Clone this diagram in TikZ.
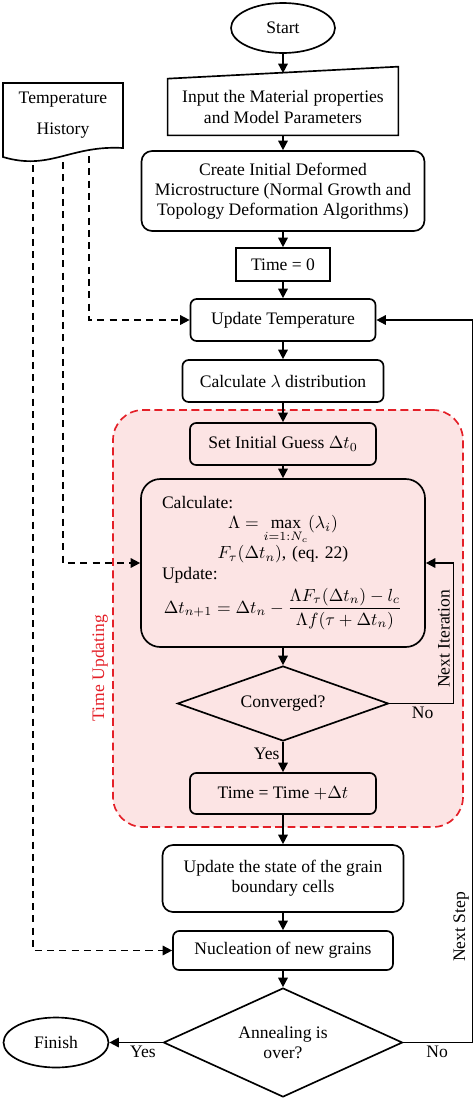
\documentclass[tikz,border=0pt]{standalone}
\usepackage{amsmath,amssymb}
\usepackage{fontspec}
\setmainfont{Liberation Serif}
\usetikzlibrary{arrows.meta,shapes.geometric,positioning}
\definecolor{regionpink}{RGB}{252,228,228}
\definecolor{regionred}{RGB}{228,32,40}

\begin{document}
\begin{tikzpicture}[x=1cm,y=1cm]
\tikzset{
  flownode/.style={draw=black,line width=0.95pt,font=\fontsize{10}{11.5}\selectfont,align=center,inner sep=1pt},
  roundbox/.style={flownode,rectangle,rounded corners=3.5pt},
  plainbox/.style={flownode,rectangle},
  decision/.style={flownode,diamond,aspect=2.6},
  terminal/.style={flownode,ellipse},
  textonly/.style={font=\fontsize{10}{11.5}\selectfont,align=center,inner sep=1pt},
  flowedge/.style={draw=black,line width=0.95pt,line join=miter},
  directed/.style={flowedge,-{Triangle[length=5.4pt,width=5.4pt]}},
  feedback/.style={directed,dash pattern=on 4pt off 3pt},
  edgelabel/.style={font=\fontsize{10}{11.5}\selectfont,inner sep=1.5pt},
  regionbox/.style={draw=regionred,fill=regionpink,line width=0.95pt,dash pattern=on 4.5pt off 2.5pt,rounded corners=0.6cm}
}
\useasboundingbox (0,0) rectangle (9.48,-21.96);
% time updating region
\node[regionbox,minimum width=7.00cm,minimum height=8.34cm] (n_region) at (5.76,-12.37) {};
\node[textonly,text=regionred,rotate=90] (n_tulabel) at (2.00,-13.36) {Time Updating};
% main column
\node[terminal,minimum width=2.08cm,minimum height=1.00cm] (n_start) at (5.66,-0.56) {Start};
\node[textonly,minimum width=4.60cm,minimum height=1.12cm] (n_input) at (5.66,-2.14) {Input the Material properties\\and Model Parameters};
\draw[flowedge] (n_input.south west) -- (n_input.south east) -- ([yshift=0.24cm]n_input.north east) -- (n_input.north west) -- cycle;
\node[roundbox,minimum width=5.66cm,minimum height=1.60cm,rounded corners=6pt] (n_create) at (5.66,-3.82) {Create Initial Deformed\\Microstructure (Normal Growth and\\Topology Deformation Algorithms)};
\node[plainbox,minimum width=1.88cm,minimum height=0.66cm] (n_time0) at (5.66,-5.29) {Time = 0};
\node[roundbox,minimum width=3.70cm,minimum height=0.84cm] (n_updtemp) at (5.66,-6.40) {Update Temperature};
\node[roundbox,minimum width=4.02cm,minimum height=0.84cm] (n_lambda) at (5.66,-7.62) {Calculate $\lambda$ distribution};
\node[roundbox,minimum width=3.72cm,minimum height=0.84cm] (n_guess) at (5.66,-8.88) {Set Initial Guess $\Delta t_0$};
\node[roundbox,minimum width=5.68cm,minimum height=3.36cm,rounded corners=11pt,text width=4.84cm] (n_calc) at (5.66,-11.26) {%
  \makebox[4.84cm][l]{Calculate:}\\
  \mbox{$\Lambda=\max\limits_{i=1:N_c}(\lambda_i)$}\\
  \mbox{$F_\tau(\Delta t_n)$, (eq.~22)}\\
  \makebox[4.84cm][l]{Update:}\\[2pt]
  \mbox{$\displaystyle\Delta t_{n+1}=\Delta t_n-\frac{\Lambda F_\tau(\Delta t_n)-l_c}{\Lambda f(\tau+\Delta t_n)}$}};
\node[decision,minimum width=4.22cm,minimum height=1.50cm] (n_conv) at (5.66,-14.07) {Converged?};
\node[roundbox,minimum width=3.72cm,minimum height=0.82cm] (n_tupd) at (5.66,-15.87) {Time = Time $+\Delta t$};
\node[roundbox,minimum width=4.82cm,minimum height=1.34cm,rounded corners=6pt] (n_gbc) at (5.66,-17.57) {Update the state of the grain\\boundary cells};
\node[roundbox,minimum width=4.40cm,minimum height=0.78cm] (n_nucl) at (5.66,-19.01) {Nucleation of new grains};
\node[decision,minimum width=4.78cm,minimum height=2.18cm] (n_anneal) at (5.66,-20.85) {Annealing is\\over?};
\node[terminal,minimum width=2.10cm,minimum height=1.00cm] (n_finish) at (1.12,-20.85) {Finish};
% temperature history document
\node[textonly] (n_temp) at (1.26,-2.30) {Temperature\\[6pt]History};
\draw[flowedge] (0.06,-1.66) -- (2.46,-1.66) -- (2.46,-2.96) .. controls (1.40,-2.90) and (1.00,-3.42) .. (0.06,-3.14) -- cycle;
\coordinate (c_hist1) at (0.66,-3.30);
\coordinate (c_hist2) at (1.26,-3.24);
\coordinate (c_hist3) at (1.78,-3.12);
% connectors
\draw[directed] (n_start.south) -- ([yshift=0.11cm]n_input.north);
\draw[directed] (n_input) -- (n_create);
\draw[directed] (n_create) -- (n_time0);
\draw[directed] (n_time0) -- (n_updtemp);
\draw[directed] (n_updtemp) -- (n_lambda);
\draw[directed] (n_lambda) -- (n_guess);
\draw[directed] (n_guess) -- (n_calc);
\draw[directed] (n_calc) -- (n_conv);
\draw[directed] (n_conv) -- node[edgelabel,left,pos=0.4] {Yes} (n_tupd);
\draw[directed] (n_tupd) -- (n_gbc);
\draw[directed] (n_gbc) -- (n_nucl);
\draw[directed] (n_nucl) -- (n_anneal);
\draw[directed] (n_anneal) -- node[edgelabel,below,pos=0.37] {Yes} (n_finish);
\draw[directed] (n_conv.east) -- node[edgelabel,below,pos=0.52] {No} ++(1.28,0)
  |- node[edgelabel,rotate=90,anchor=south,pos=0.23] {Next Iteration} (n_calc.east);
\draw[directed] (n_anneal.east) -- node[edgelabel,below,pos=0.49] {No} ++(1.38,0)
  |- node[edgelabel,rotate=90,anchor=south,pos=0.08] {Next Step} (n_updtemp.east);
% temperature feeds
\draw[feedback] (c_hist3) |- (n_updtemp.west);
\draw[feedback] (c_hist2) |- (n_calc.west);
\draw[feedback] (c_hist1) |- (n_nucl.west);
\end{tikzpicture}
\end{document}
